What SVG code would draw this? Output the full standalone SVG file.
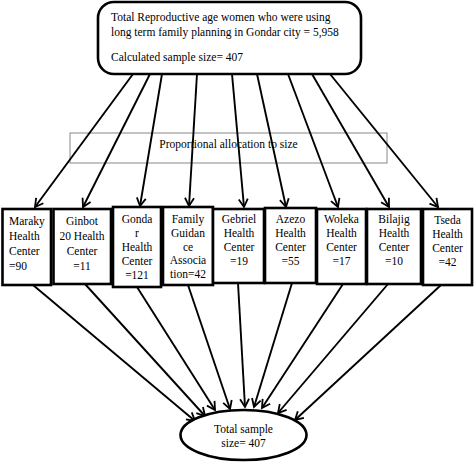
<svg xmlns="http://www.w3.org/2000/svg" width="474" height="462" viewBox="0 0 474 462">
<defs>
<marker id="ah" viewBox="-10 -6 12 12" refX="0" refY="0" markerWidth="12" markerHeight="12" markerUnits="userSpaceOnUse" orient="auto">
<path d="M-8,-4.5 L0,0 L-8,4.5" fill="none" stroke="#000" stroke-width="1.8"/>
</marker>
<style>
text{font-family:"Liberation Serif","Times New Roman",serif;font-size:11.5px;fill:#000}
.c{text-anchor:middle}
.box{fill:#fff;stroke:#000;stroke-width:2.6}
.ln{stroke:#000;stroke-width:1.9;fill:none;marker-end:url(#ah)}
</style>
</defs>
<rect width="474" height="462" fill="#fff"/>
<g id="top">
<rect x="98" y="2" width="263" height="72" rx="16" ry="16" class="box" stroke-width="2.4"/>
<text x="111" y="21">Total Reproductive age women who were using</text>
<text x="111" y="36">long term family planning in Gondar city = 5,958</text>
<text x="111" y="61">Calculated sample size= 407</text>
</g>
<g id="allocation">
<rect x="70" y="133" width="317" height="30" fill="none" stroke="#888" stroke-width="1"/>
<text x="228.5" y="147.5" class="c">Proportional allocation to size</text>
</g>
<g id="connectors">
<line class="ln" x1="133" y1="74" x2="35" y2="207"/>
<line class="ln" x1="150" y1="74" x2="83" y2="207"/>
<line class="ln" x1="162" y1="74" x2="140" y2="206"/>
<line class="ln" x1="197" y1="74" x2="189" y2="206"/>
<line class="ln" x1="232" y1="74" x2="244" y2="207"/>
<line class="ln" x1="257" y1="74" x2="286" y2="207"/>
<line class="ln" x1="288" y1="74" x2="338" y2="207"/>
<line class="ln" x1="312" y1="74" x2="389" y2="207"/>
<line class="ln" x1="330" y1="74" x2="438" y2="207"/>
<line class="ln" x1="33" y1="285" x2="195" y2="421"/>
<line class="ln" x1="85" y1="284" x2="205" y2="416"/>
<line class="ln" x1="137" y1="287" x2="215" y2="410"/>
<line class="ln" x1="188" y1="285" x2="230" y2="409"/>
<line class="ln" x1="238" y1="283" x2="245" y2="407"/>
<line class="ln" x1="292" y1="283" x2="254" y2="407"/>
<line class="ln" x1="343" y1="284" x2="262" y2="408"/>
<line class="ln" x1="388" y1="284" x2="278" y2="413"/>
<line class="ln" x1="441" y1="285" x2="295" y2="420"/>
</g>
<g id="maraky">
<rect x="2.5" y="209" width="48.5" height="76" class="box"/>
<text x="9" y="225">Maraky</text>
<text x="9" y="240">Health</text>
<text x="9" y="255">Center</text>
<text x="9" y="270">=90</text>
</g>
<g id="ginbot">
<rect x="53.5" y="209" width="57.5" height="75" class="box"/>
<text x="82" y="225" class="c">Ginbot</text>
<text x="82" y="240" class="c">20 Health</text>
<text x="82" y="255" class="c">Center</text>
<text x="82" y="270" class="c">=11</text>
</g>
<g id="gondar">
<rect x="113" y="207" width="48" height="80" class="box"/>
<text x="137" y="223" class="c">Gonda</text>
<text x="137" y="237" class="c">r</text>
<text x="137" y="251" class="c">Health</text>
<text x="137" y="265" class="c">Center</text>
<text x="137" y="279" class="c">=121</text>
</g>
<g id="family">
<rect x="163" y="207" width="50" height="78" class="box"/>
<text x="188" y="223" class="c">Family</text>
<text x="188" y="237" class="c">Guidan</text>
<text x="188" y="251" class="c">ce</text>
<text x="188" y="264" class="c">Associa</text>
<text x="188" y="278" class="c">tion=42</text>
</g>
<g id="gebriel">
<rect x="213" y="209" width="51" height="74" class="box"/>
<text x="239" y="223" class="c">Gebriel</text>
<text x="239" y="237" class="c">Health</text>
<text x="239" y="251" class="c">Center</text>
<text x="239" y="265" class="c">=19</text>
</g>
<g id="azezo">
<rect x="265" y="208" width="51" height="75" class="box"/>
<text x="290.5" y="223" class="c">Azezo</text>
<text x="290.5" y="237" class="c">Health</text>
<text x="290.5" y="251" class="c">Center</text>
<text x="290.5" y="265" class="c">=55</text>
</g>
<g id="woleka">
<rect x="317" y="209" width="49" height="75" class="box"/>
<text x="341.5" y="223" class="c">Woleka</text>
<text x="341.5" y="237" class="c">Health</text>
<text x="341.5" y="251" class="c">Center</text>
<text x="341.5" y="265" class="c">=17</text>
</g>
<g id="bilajig">
<rect x="367" y="209" width="54" height="75" class="box"/>
<text x="394" y="223" class="c">Bilajig</text>
<text x="394" y="237" class="c">Health</text>
<text x="394" y="251" class="c">Center</text>
<text x="394" y="265" class="c">=10</text>
</g>
<g id="tseda">
<rect x="423" y="209" width="49" height="76" class="box"/>
<text x="447.5" y="224" class="c">Tseda</text>
<text x="447.5" y="238" class="c">Health</text>
<text x="447.5" y="252" class="c">Center</text>
<text x="447.5" y="266" class="c">=42</text>
</g>
<g id="total">
<ellipse cx="243.5" cy="435" rx="63" ry="25" class="box" stroke-width="2.2"/>
<text x="243.5" y="433" class="c">Total sample</text>
<text x="243.5" y="447" class="c">size= 407</text>
</g>
</svg>
